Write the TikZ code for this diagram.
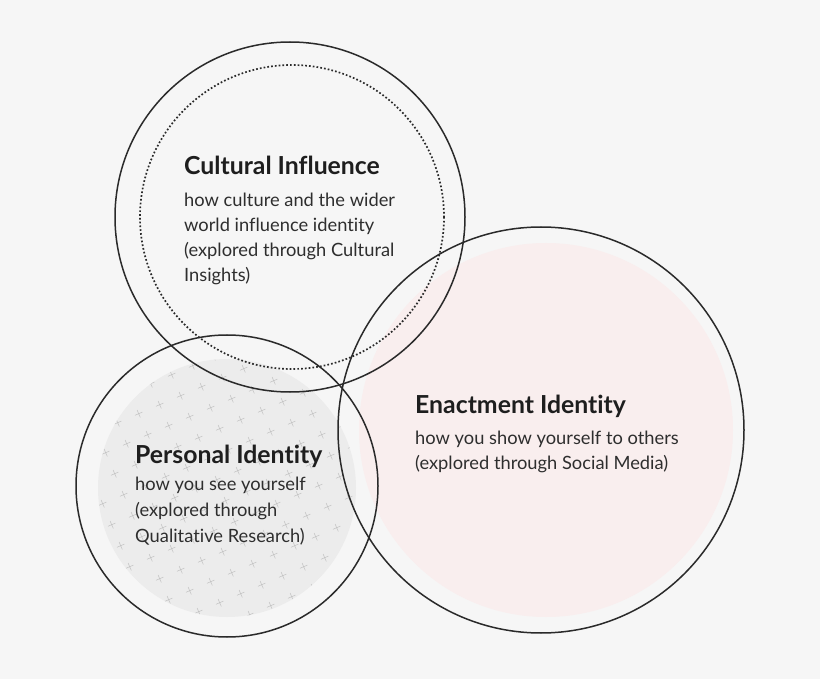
\documentclass[tikz,border=0pt]{standalone}
\usepackage{fontspec}
\setmainfont{Lato}[Ligatures={NoCommon}]
\definecolor{bgcol}{HTML}{F6F6F6}
\definecolor{greydisc}{HTML}{ECECEC}
\definecolor{pinkdisc}{HTML}{F9EEEE}
\definecolor{ringcol}{HTML}{2A2A2A}
\definecolor{crosscol}{HTML}{C4C4C4}
\definecolor{titlecol}{HTML}{1E1E1E}
\definecolor{bodycol}{HTML}{2E2E2E}
\begin{document}
\begin{tikzpicture}[x=1pt,y=-1pt,
  ring/.style={draw=ringcol,line width=1.5pt},
  dotring/.style={draw=ringcol,line width=1.7pt,dash pattern=on 1.7pt off 2.1pt},
  crossline/.style={draw=crosscol,line width=0.55pt},
  titletext/.style={anchor=base west,inner sep=0pt,text=titlecol,font=\fontsize{24.8}{28}\selectfont\bfseries},
  bodytext/.style={anchor=base west,inner sep=0pt,text=bodycol,font=\fontsize{18.3}{21}\selectfont}]
\useasboundingbox (0,0) rectangle (820,679);
\fill[bgcol] (0,0) rectangle (820,679);
% grey disc with crosses
\fill[greydisc] (227,488) circle[radius=129];
\begin{scope}
  \clip (227,488) circle[radius=129];
  \foreach \i in {-11,...,11}{
    \foreach \j in {-11,...,11}{
      \draw[crossline] ({201.7+21*\i+9*\j},{386.7-9*\i+21*\j}) +(-3.7,1.6) -- +(3.7,-1.6)
        +(-1.6,-3.7) -- +(1.6,3.7);
    }
  }
\end{scope}
% pink disc
\fill[pinkdisc] (546,430) circle[radius=187];
% rings
\draw[ring] (290,217) circle[radius=175];
\draw[dotring] (292,217) circle[radius=152];
\draw[ring] (227,486) circle[radius=151];
\draw[ring] (541,430) circle[radius=203];
% Cultural Influence
\node[titletext] (ct) at (184,175) {Cultural Influence};
\node[bodytext] (c1) at (184,206.7) {how culture and the wider};
\node[bodytext] (c2) at (184,231.7) {world influence identity};
\node[bodytext] (c3) at (184,256.7) {(explored through Cultural};
\node[bodytext] (c4) at (184,281.7) {Insights)};
% Enactment Identity
\node[titletext] (et) at (415,413.3) {Enactment Identity};
\node[bodytext] (e1) at (415,444) {how you show yourself to others};
\node[bodytext] (e2) at (415,469.5) {(explored through Social Media)};
% Personal Identity
\node[titletext] (pt) at (135,463.3) {Personal Identity};
\node[bodytext] (p1) at (135,490.7) {how you see yourself};
\node[bodytext] (p2) at (135,516.7) {(explored through};
\node[bodytext] (p3) at (135,542.7) {Qualitative Research)};
\end{tikzpicture}
\end{document}
